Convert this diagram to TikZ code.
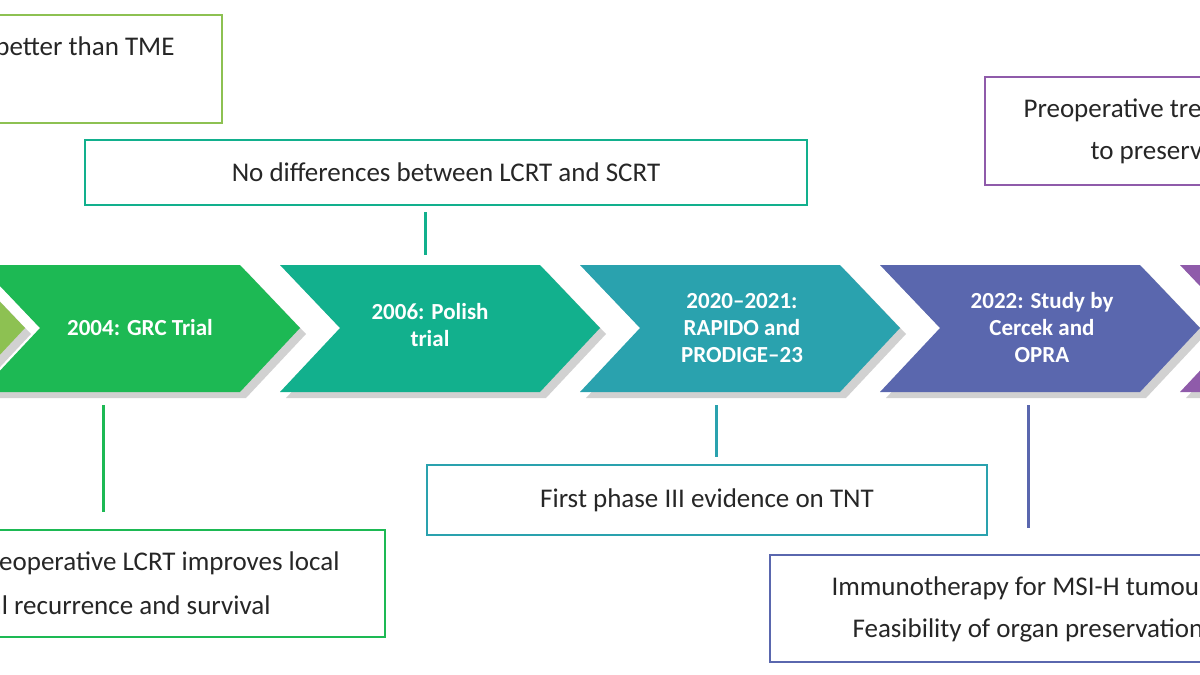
\documentclass[tikz,border=0pt]{standalone}
\usepackage{fontspec}
\setmainfont{Carlito}
\usetikzlibrary{positioning}

\definecolor{cLime}{HTML}{8DC152}
\definecolor{cGreen}{HTML}{1DB954}
\definecolor{cJade}{HTML}{12B08D}
\definecolor{cTeal}{HTML}{2AA2AE}
\definecolor{cBlue}{HTML}{5A67AE}
\definecolor{cPurple}{HTML}{8F5BAA}

\tikzset{
  box/.style={draw=#1, line width=2.2pt, fill=white},
  btext/.style={font=\fontsize{27}{33}\selectfont, align=center, text=black!85},
  ctext/.style={font=\bfseries\fontsize{23}{27}\selectfont, text=white, align=center},
  link/.style={draw=#1, line width=3pt}
}
\newcommand{\chev}[2]{%
  \fill[black!18] (#1+6,271) -- (#1+266,271) -- (#1+326,334) -- (#1+266,398) -- (#1+6,398) -- (#1+66,334) -- cycle;
  \fill[#2] (#1,265) -- (#1+260,265) -- (#1+320,328) -- (#1+260,392) -- (#1,392) -- (#1+60,328) -- cycle;}

\begin{document}
\begin{tikzpicture}[x=1pt,y=-1pt]
\useasboundingbox (0,0) rectangle (1200,675);
\clip (0,0) rectangle (1200,675);

% chevrons
\foreach \l/\c in {-295/cLime,-20/cGreen,280/cJade,580/cTeal,880/cBlue,1180/cPurple}
  {\chev{\l}{\c}}
\node[ctext] (grc) at (140,328) {2004: GRC Trial};
\node[ctext] (polish) at (430,325) {2006: Polish\\trial};
\node[ctext] (rapido) at (742,328) {2020--2021:\\RAPIDO and\\PRODIGE--23};
\node[ctext] (opra) at (1042,328) {2022: Study by\\Cercek and\\OPRA};

% boxes
\draw[box=cLime] (-100,15) rectangle (222,123);
\node[btext, anchor=east] (tme) at (178,48) {Preoperative RT better than TME};

\draw[box=cJade] (85,140) rectangle (807,205);
\node[btext] (nodiff) at (446,172) {No differences between LCRT and SCRT};

\draw[box=cPurple] (985,77) rectangle (1300,185);
\node[btext, anchor=west, align=left] (preop) at (1020,110) {Preoperative treatment};
\node[btext, anchor=west, align=left] (pres) at (1087,153) {to preserve organ};

\draw[box=cGreen] (-100,530) rectangle (385,637);
\node[btext, anchor=east] (lcrt1) at (343,563) {Preoperative LCRT improves local};
\node[btext, anchor=east] (lcrt2) at (274,605) {local recurrence and survival};

\draw[box=cTeal] (427,465) rectangle (987,535);
\node[btext] (tnt) at (707,500) {First phase III evidence on TNT};

\draw[box=cBlue] (770,555) rectangle (1300,662);
\node[btext, anchor=west] (immu) at (828,588) {Immunotherapy for MSI-H tumours};
\node[btext, anchor=west] (feas) at (849,630) {Feasibility of organ preservation};

% connectors
\coordinate (c1a) at (425,212); \coordinate (c1b) at (425,255);
\coordinate (c2a) at (103,405); \coordinate (c2b) at (103,512);
\coordinate (c3a) at (716,405); \coordinate (c3b) at (716,457);
\coordinate (c4a) at (1028,405); \coordinate (c4b) at (1028,528);
\draw[link=cJade] (c1a) -- (c1b);
\draw[link=cGreen] (c2a) -- (c2b);
\draw[link=cTeal] (c3a) -- (c3b);
\draw[link=cBlue] (c4a) -- (c4b);
\end{tikzpicture}
\end{document}
